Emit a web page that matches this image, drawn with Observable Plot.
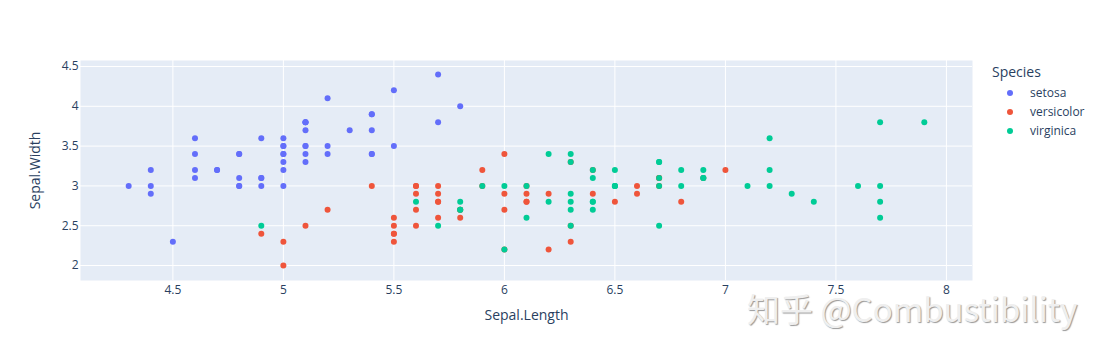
<!DOCTYPE html>
<html>
<head>
<meta charset="utf-8">
<script src="https://cdn.jsdelivr.net/npm/d3@7"></script>
<script src="https://cdn.jsdelivr.net/npm/@observablehq/plot@0.6"></script>
<style>
  body { margin: 0; background: #fff; }
  #wrap { position: relative; width: 1106px; height: 360px; font-family: "Open Sans", sans-serif; color: #2a3f5f; }
  #legend { position: absolute; left: 992px; top: 62px; }
  #legend .title { position: absolute; left: 0; top: 0; font-size: 14px; line-height: 20px; white-space: nowrap; }
  #legend .item { position: absolute; left: 0; font-size: 12px; line-height: 16px; white-space: nowrap; }
  #legend .item .dot { position: absolute; left: 15px; top: 5px; width: 6px; height: 6px; border-radius: 3px; }
  #legend .item .lab { position: absolute; left: 38px; top: 0; }
  #wm { position: absolute; left: 747px; top: 295px; height: 26px; font-family: "Noto Sans CJK SC", "Open Sans", sans-serif; font-size: 33px; line-height: 26px; color: #efefef; text-shadow: 1px 1px 1px #999; white-space: nowrap; }
</style>
</head>
<body>
<div id="wrap"><div id="chart"></div><div id="legend"></div><div id="wm">知乎 @Combustibility</div></div>
<script>
const species = ["setosa", "versicolor", "virginica"];
const colors = ["#636efa", "#EF553B", "#00cc96"];

const setosaLength = [5.1,4.9,4.7,4.6,5.0,5.4,4.6,5.0,4.4,4.9,5.4,4.8,4.8,4.3,5.8,5.7,5.4,5.1,5.7,5.1,5.4,5.1,4.6,5.1,4.8,5.0,5.0,5.2,5.2,4.7,4.8,5.4,5.2,5.5,4.9,5.0,5.5,4.9,4.4,5.1,5.0,4.5,4.4,5.0,5.1,4.8,5.1,4.6,5.3,5.0];
const setosaWidth  = [3.5,3.0,3.2,3.1,3.6,3.9,3.4,3.4,2.9,3.1,3.7,3.4,3.0,3.0,4.0,4.4,3.9,3.5,3.8,3.8,3.4,3.7,3.6,3.3,3.4,3.0,3.4,3.5,3.4,3.2,3.1,3.4,4.1,4.2,3.1,3.2,3.5,3.6,3.0,3.4,3.5,2.3,3.2,3.5,3.8,3.0,3.8,3.2,3.7,3.3];
const versicolorLength = [7.0,6.4,6.9,5.5,6.5,5.7,6.3,4.9,6.6,5.2,5.0,5.9,6.0,6.1,5.6,6.7,5.6,5.8,6.2,5.6,5.9,6.1,6.3,6.1,6.4,6.6,6.8,6.7,6.0,5.7,5.5,5.5,5.8,6.0,5.4,6.0,6.7,6.3,5.6,5.5,5.5,6.1,5.8,5.0,5.6,5.7,5.7,6.2,5.1,5.7];
const versicolorWidth  = [3.2,3.2,3.1,2.3,2.8,2.8,3.3,2.4,2.9,2.7,2.0,3.0,2.2,2.9,2.9,3.1,3.0,2.7,2.2,2.5,3.2,2.8,2.5,2.8,2.9,3.0,2.8,3.0,2.9,2.6,2.4,2.4,2.7,2.7,3.0,3.4,3.1,2.3,3.0,2.5,2.6,3.0,2.6,2.3,2.7,3.0,2.9,2.9,2.5,2.8];
const virginicaLength = [6.3,5.8,7.1,6.3,6.5,7.6,4.9,7.3,6.7,7.2,6.5,6.4,6.8,5.7,5.8,6.4,6.5,7.7,7.7,6.0,6.9,5.6,7.7,6.3,6.7,7.2,6.2,6.1,6.4,7.2,7.4,7.9,6.4,6.3,6.1,7.7,6.3,6.4,6.0,6.9,6.7,6.9,5.8,6.8,6.7,6.7,6.3,6.5,6.2,5.9];
const virginicaWidth  = [3.3,2.7,3.0,2.9,3.0,3.0,2.5,2.9,2.5,3.6,3.2,2.7,3.0,2.5,2.8,3.2,3.0,3.8,2.6,2.2,3.2,2.8,2.8,2.7,3.3,3.2,2.8,3.0,2.8,3.0,2.8,3.8,2.8,2.8,2.6,3.0,3.4,3.1,3.0,3.1,3.1,3.1,2.7,3.2,3.3,3.0,2.5,3.0,3.4,3.0];

const xTicks = [4.5, 5, 5.5, 6, 6.5, 7, 7.5, 8];
const yTicks = [2, 2.5, 3, 3.5, 4, 4.5];
const xDomain = [4.082, 8.118];
const yDomain = [1.812, 4.575];

const lengths = [setosaLength, versicolorLength, virginicaLength];
const widths = [setosaWidth, versicolorWidth, virginicaWidth];
const data = [];
species.forEach((s, i) => lengths[i].forEach((v, j) => data.push({species: s, length: v, width: widths[i][j]})));

const fmt = d => String(d);
const chart = Plot.plot({
  width: 1106,
  height: 360,
  marginLeft: 80,
  marginRight: 134,
  marginTop: 60,
  marginBottom: 80,
  style: {fontFamily: "'Open Sans', sans-serif", fontSize: "12px", color: "#2a3f5f", background: "transparent"},
  x: {domain: xDomain, axis: null},
  y: {domain: yDomain, axis: null},
  color: {domain: species, range: colors},
  marks: [
    Plot.frame({fill: "#E5ECF6", stroke: null}),
    Plot.gridX(xTicks, {stroke: "white", strokeOpacity: 1, strokeWidth: 1}),
    Plot.gridY(yTicks, {stroke: "white", strokeOpacity: 1, strokeWidth: 1}),
    Plot.axisX(xTicks, {tickSize: 0, tickPadding: 5, tickFormat: fmt, label: null, fontSize: 12}),
    Plot.axisY(yTicks, {tickSize: 0, tickPadding: 2, tickFormat: fmt, label: null, fontSize: 12}),
    Plot.dot(data, {x: "length", y: "width", fill: "species", r: 3, stroke: null}),
    Plot.text(["Sepal.Length"], {frameAnchor: "bottom", text: d => d, dy: 35, lineAnchor: "middle", fontSize: 14, fill: "#2a3f5f"}),
    Plot.text(["Sepal.Width"], {frameAnchor: "left", text: d => d, dx: -45, rotate: -90, textAnchor: "middle", lineAnchor: "middle", fontSize: 14, fill: "#2a3f5f"})
  ]
});
document.getElementById("chart").appendChild(chart);

const legend = document.getElementById("legend");
legend.innerHTML = `<div class="title">Species</div>` + species.map((s, i) =>
  `<div class="item" style="top:${23 + i * 19}px"><span class="dot" style="background:${colors[i]}"></span><span class="lab">${s}</span></div>`
).join("");
</script>
</body>
</html>
